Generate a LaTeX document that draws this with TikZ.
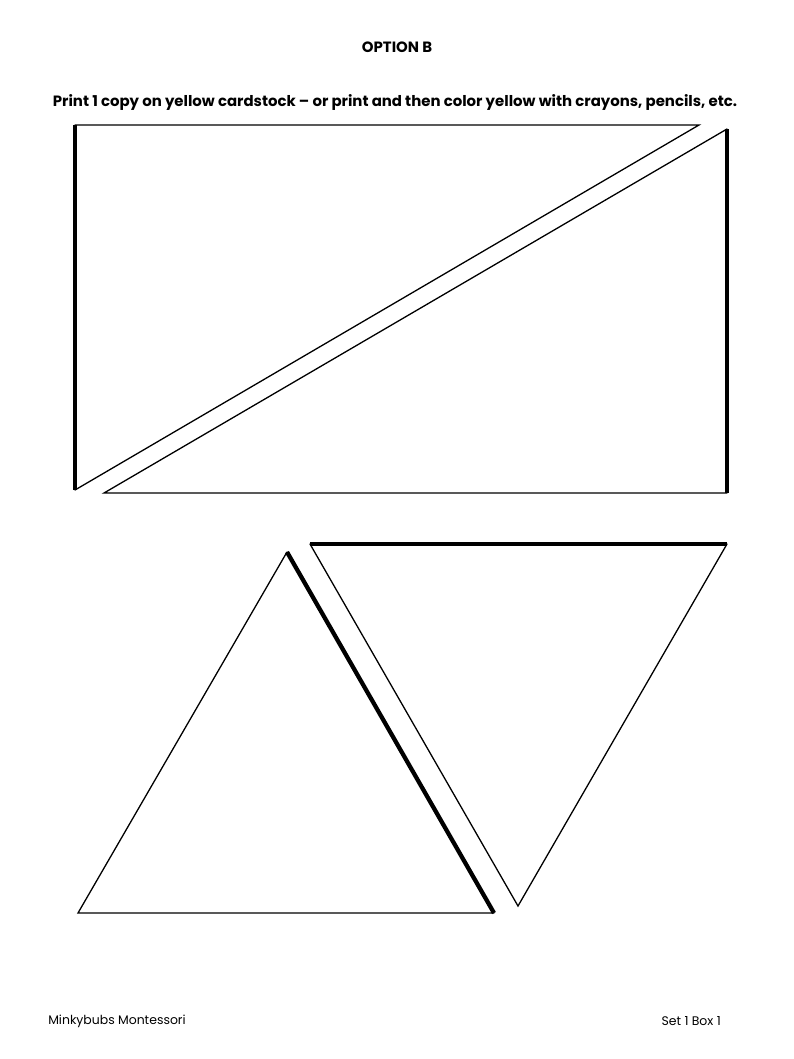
\documentclass[tikz,border=0pt]{standalone}
\usepackage{fontspec}
\setmainfont{Poppins}
\newcommand*\drawPiece[4][]{%
    % #2/#3/#4: corners, thick edge from #2 to #3
    \draw[thin line,#1] (#3) -- (#4) -- (#2);
    \draw[thick line] (#2) -- (#3);
}
\begin{document}
\begin{tikzpicture}[x=0.7708pt,y=-0.7708pt,line cap=round,line join=miter,
    thin line/.style={line width=1pt},
    thick line/.style={line width=3.3pt,line cap=butt}]
    \useasboundingbox (0,0) rectangle (794,1059);
    % rectangle halves
    \coordinate (a-1) at (75,125);
    \coordinate (a-2) at (75,490);
    \coordinate (a-3) at (699,125);
    \coordinate (b-1) at (727,129);
    \coordinate (b-2) at (727,493);
    \coordinate (b-3) at (104,493);
    % triangles
    \coordinate (c-1) at (494,913);
    \coordinate (c-2) at (287,552);
    \coordinate (c-3) at (78,913);
    \coordinate (d-1) at (310,544);
    \coordinate (d-2) at (727,544);
    \coordinate (d-3) at (518,906);
    \foreach \p in {a,b,c,d}{
        \drawPiece{\p-1}{\p-2}{\p-3}
    }
    \node[font=\bfseries\fontsize{11.5}{13}\selectfont] (title) at (397,47) {OPTION B};
    \node[font=\bfseries\fontsize{11.5}{13}\selectfont] (note) at (395,103) {Print 1 copy on yellow cardstock – or print and then color yellow with crayons, pencils, etc.};
    \node[font=\fontsize{9.6}{11}\selectfont,anchor=west,inner sep=0pt] (brand) at (48,1021) {Minkybubs Montessori};
    \node[font=\fontsize{9.6}{11}\selectfont,anchor=east,inner sep=0pt] (set) at (721,1021) {Set 1 Box 1};
\end{tikzpicture}
\end{document}
